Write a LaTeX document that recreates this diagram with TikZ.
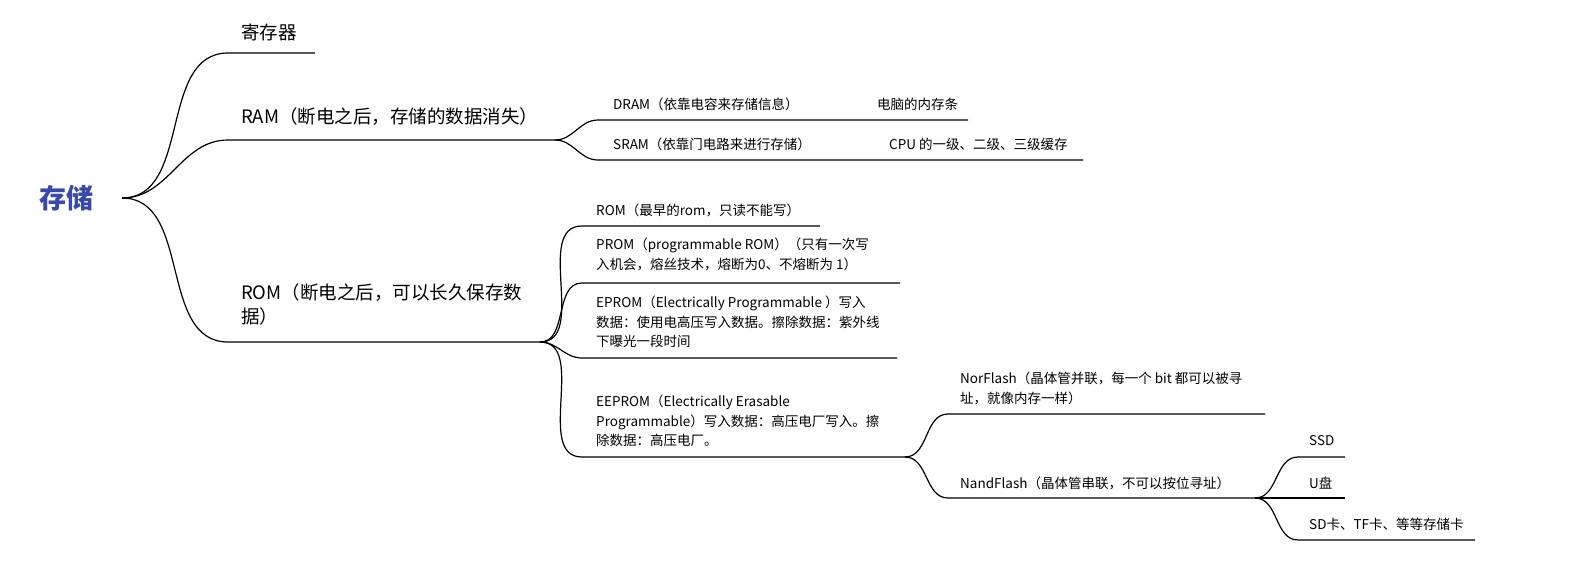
\documentclass[tikz,border=0pt]{standalone}
\usepackage{fontspec}
\setmainfont{Noto Sans CJK SC}
\begin{document}
\begin{tikzpicture}[x=1pt,y=-1pt,
  ln/.style={line width=1.2pt,black},
  t/.style={anchor=west,inner sep=0pt,font=\fontsize{13.5}{19.5}\selectfont,align=left},
  tm/.style={anchor=west,inner sep=0pt,font=\fontsize{18.5}{24.5}\selectfont,align=left}]
\useasboundingbox (0,0) rectangle (1586,576);
\node[anchor=center,inner sep=0pt,font=\fontsize{27}{30}\bfseries\selectfont,text={rgb,255:red,57;green,73;blue,171}] (root) at (66,198) {存储};
\coordinate (r) at (122,198);
% level 1
\coordinate (a0) at (228,53); \coordinate (a1) at (315,53);
\coordinate (b0) at (228,140); \coordinate (b1) at (555,140);
\coordinate (c0) at (228,342); \coordinate (c1) at (540,342);
\draw[ln] (r) to[out=0,in=180] (a0) -- (a1);
\draw[ln] (r) to[out=0,in=180] (b0) -- (b1);
\draw[ln] (r) to[out=0,in=180] (c0) -- (c1);
\node[tm] (na) at (241,32) {寄存器};
\node[tm] (nb) at (241,117) {RAM（断电之后，存储的数据消失）};
\node[tm,anchor=north west] (nc) at (241,283) {ROM（断电之后，可以长久保存数\\据）};
% RAM children
\coordinate (d0) at (598,120); \coordinate (d1) at (968,120);
\coordinate (s0) at (598,160); \coordinate (s1) at (1083,160);
\draw[ln] (b1) to[out=0,in=180] (d0) -- (d1);
\draw[ln] (b1) to[out=0,in=180] (s0) -- (s1);
\node[t] (nd) at (613,104) {DRAM（依靠电容来存储信息）};
\node[t] (nd2) at (877,104) {电脑的内存条};
\node[t] (ns) at (613,144) {SRAM（依靠门电路来进行存储）};
\node[t] (ns2) at (889,144) {CPU 的一级、二级、三级缓存};
% ROM children
\coordinate (e0) at (582,226); \coordinate (e1) at (820,226);
\coordinate (f0) at (582,283); \coordinate (f1) at (900,283);
\coordinate (g0) at (582,358); \coordinate (g1) at (897,358);
\coordinate (h0) at (582,457); \coordinate (h1) at (905,457);
\draw[ln] (c1) to[out=0,in=180] (e0) -- (e1);
\draw[ln] (c1) to[out=0,in=180] (f0) -- (f1);
\draw[ln] (c1) to[out=0,in=180] (g0) -- (g1);
\draw[ln] (c1) to[out=0,in=180] (h0) -- (h1);
\node[t] (ne) at (596,210) {ROM（最早的rom，只读不能写）};
\node[t,anchor=north west] (nf) at (596,238) {PROM（programmable ROM）（只有一次写\\入机会，熔丝技术，熔断为0、不熔断为 1）};
\node[t,anchor=north west] (ng) at (596,296) {EPROM（Electrically Programmable ）写入\\数据：使用电高压写入数据。擦除数据：紫外线\\下曝光一段时间};
\node[t,anchor=north west] (nh) at (596,395) {EEPROM（Electrically Erasable\\Programmable）写入数据：高压电厂写入。擦\\除数据：高压电厂。};
% EEPROM children
\coordinate (i0) at (948,414); \coordinate (i1) at (1265,414);
\coordinate (j0) at (948,498); \coordinate (j1) at (1255,498);
\draw[ln] (h1) to[out=0,in=180] (i0) -- (i1);
\draw[ln] (h1) to[out=0,in=180] (j0) -- (j1);
\node[t,anchor=north west] (ni) at (960,372) {NorFlash（晶体管并联，每一个 bit 都可以被寻\\址，就像内存一样）};
\node[t] (nj) at (960,483) {NandFlash（晶体管串联，不可以按位寻址）};
% NandFlash children
\coordinate (k0) at (1298,457); \coordinate (k1) at (1345,457);
\coordinate (l0) at (1298,498); \coordinate (l1) at (1345,498);
\coordinate (m0) at (1298,540); \coordinate (m1) at (1475,540);
\draw[ln] (j1) to[out=0,in=180] (k0) -- (k1);
\draw[ln] (j1) -- (l0) -- (l1);
\draw[ln] (j1) to[out=0,in=180] (m0) -- (m1);
\node[t] (nk) at (1309,441) {SSD};
\node[t] (nl) at (1309,483) {U盘};
\node[t] (nm) at (1309,524) {SD卡、TF卡、等等存储卡};
\end{tikzpicture}
\end{document}
